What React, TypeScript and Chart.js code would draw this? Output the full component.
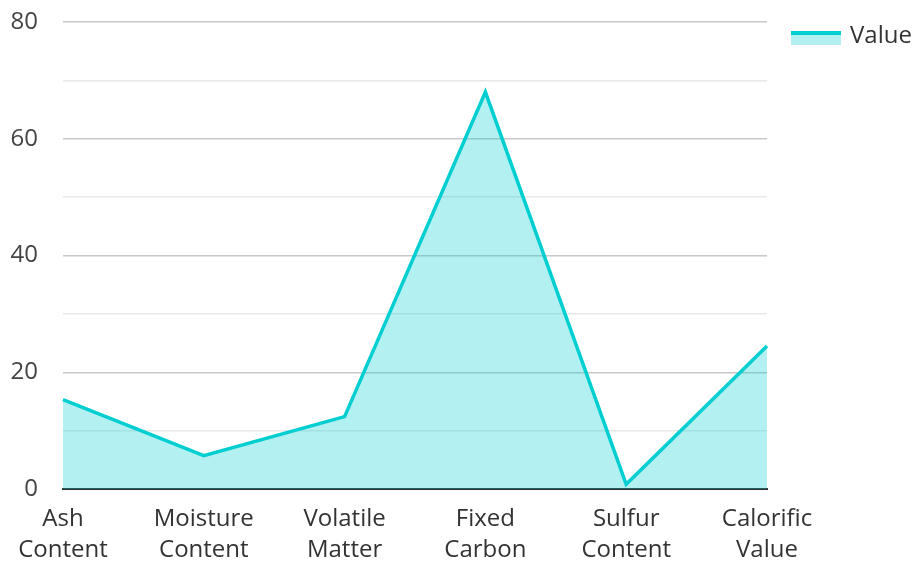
import React, { useEffect, useRef } from "react";
import { Chart, registerables } from "chart.js";

Chart.register(...registerables);

const categories: string[][] = [
  ["Ash", "Content"],
  ["Moisture", "Content"],
  ["Volatile", "Matter"],
  ["Fixed", "Carbon"],
  ["Sulfur", "Content"],
  ["Calorific", "Value"],
];
const values: number[] = [15.3, 5.7, 12.4, 68.0, 0.8, 24.5];
const seriesName = "Value";

const LINE = "#00CED1";
const FILL = "rgba(0,206,209,0.3)";
const FONT = { family: "Open Sans", size: 24, lineHeight: 1.29 };

export default function App() {
  const ref = useRef<HTMLCanvasElement | null>(null);
  useEffect(() => {
    if (!ref.current) return;
    const chart = new Chart(ref.current, {
      type: "line",
      data: {
        labels: categories,
        datasets: [
          {
            label: seriesName,
            data: values,
            borderColor: LINE,
            backgroundColor: FILL,
            borderWidth: 3.5,
            fill: "origin",
            pointRadius: 0,
            tension: 0,
          },
        ],
      },
      options: {
        animation: false,
        responsive: true,
        maintainAspectRatio: false,
        layout: { padding: { left: 0, top: 0, right: 149, bottom: 0 } },
        plugins: {
          legend: { display: false },
          tooltip: { enabled: false },
        },
        scales: {
          x: {
            offset: false,
            afterFit: (s: any) => {
              s.height = 73;
            },
            grid: { display: false, drawTicks: false },
            border: { display: true, color: "#333", width: 2 },
            ticks: {
              color: "#333",
              font: FONT,
              maxRotation: 0,
              autoSkip: false,
              padding: 15,
            },
          },
          y: {
            min: 0,
            max: 80,
            border: { display: false },
            afterFit: (s: any) => {
              s.width = 63;
              s.paddingTop = 22;
              s.paddingBottom = 0;
            },
            grid: {
              drawTicks: false,
              color: (ctx: any) =>
                ctx.tick && ctx.tick.value % 20 === 0 ? "#c8c8c8" : "#e8e8e8",
              lineWidth: 1.5,
            },
            ticks: {
              stepSize: 10,
              color: "#444",
              font: FONT,
              padding: 25,
              callback: (v: any) => (Number(v) % 20 === 0 ? String(v) : ""),
            },
          },
        },
      },
    });
    return () => chart.destroy();
  }, []);
  return (
    <div style={{ position: "fixed", left: 0, top: 0, width: 916, height: 562, background: "#fff" }}>
      <canvas ref={ref} />
      <div
        style={{
          position: "absolute",
          left: 791,
          top: 31,
          width: 50,
          height: 10,
          background: FILL,
          borderTop: `4px solid ${LINE}`,
        }}
      />
      <div
        style={{
          position: "absolute",
          left: 850,
          top: 18,
          fontFamily: "Open Sans",
          fontSize: 24,
          lineHeight: "31px",
          color: "#333",
          whiteSpace: "nowrap",
        }}
      >
        {seriesName}
      </div>
    </div>
  );
}
